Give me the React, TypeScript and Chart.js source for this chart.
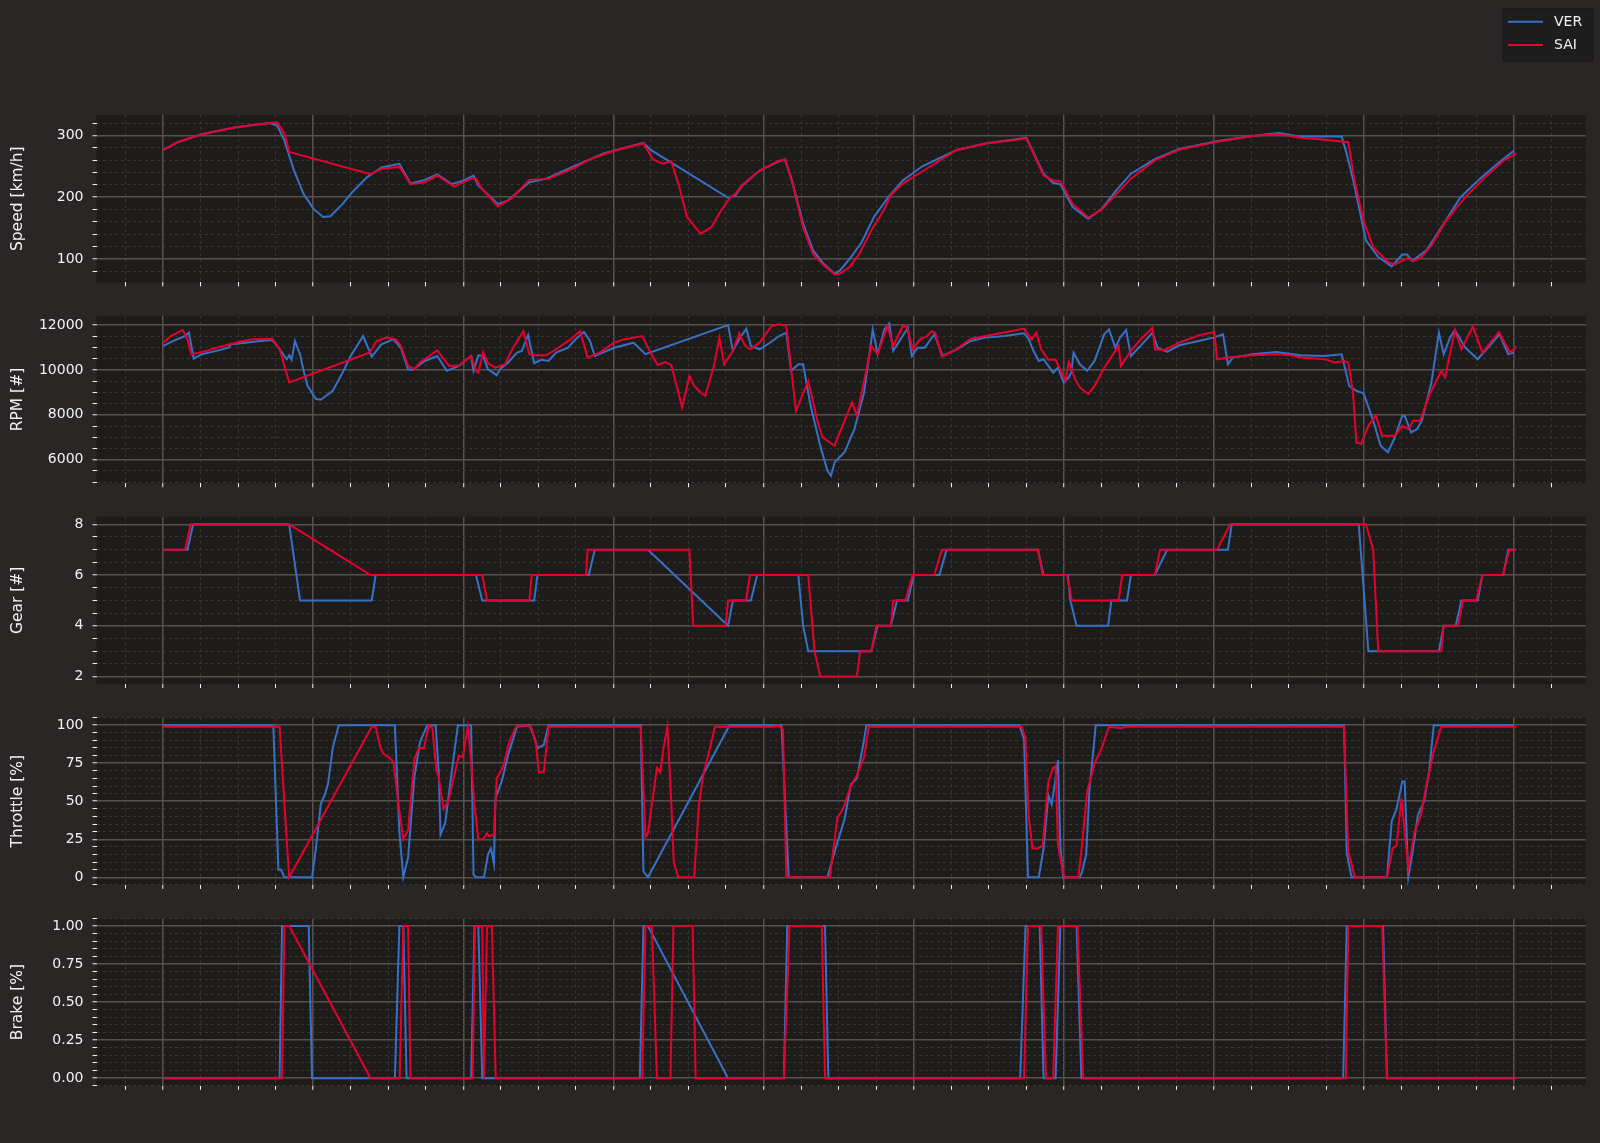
import { useEffect, useRef } from 'react';
import { Chart, registerables } from 'chart.js';

Chart.register(...registerables);

type Pt = [number, number];

// ---------- data ----------
const DRIVERS = ['VER', 'SAI'];
const DRIVER_COLORS = ['#3671C6', '#E8002D'];

const X_MIN = -222;
const X_MAX = 4740;
const X_MAJOR_STEP = 500;
const X_MINOR_STEP = 125;

const SPEED_TICKS = [100, 200, 300];
const RPM_TICKS = [6000, 8000, 10000, 12000];
const GEAR_TICKS = [2, 4, 6, 8];
const THROTTLE_TICKS = [0, 25, 50, 75, 100];
const BRAKE_TICKS = [0, 0.25, 0.5, 0.75, 1];

const VER_SPEED: Pt[] = [
  [0, 276], [48, 289], [129, 302], [242, 313], [355, 320], [380, 316], [404, 292], [436, 243], [468, 205],
  [501, 181], [533, 168], [557, 169], [598, 189], [630, 208], [679, 232], [727, 248], [787, 254], [824, 222],
  [872, 228], [913, 237], [961, 221], [1002, 227], [1034, 235], [1050, 219], [1115, 189], [1147, 194],
  [1220, 224], [1276, 230], [1373, 251], [1470, 271], [1600, 288], [1623, 277], [1882, 199], [1906, 203],
  [1930, 219], [1987, 243], [2052, 258], [2071, 261], [2092, 232], [2132, 157], [2165, 114], [2200, 92],
  [2237, 76], [2254, 81], [2287, 100], [2327, 127], [2368, 168], [2416, 200], [2464, 227], [2529, 250],
  [2642, 276], [2739, 287], [2876, 296], [2933, 238], [2965, 223], [2989, 221], [3030, 184], [3082, 165],
  [3127, 181], [3175, 211], [3224, 238], [3305, 262], [3385, 278], [3515, 291], [3644, 300], [3716, 304],
  [3789, 298], [3926, 298], [3943, 270], [3967, 222], [4007, 130], [4048, 103], [4093, 88], [4128, 107],
  [4144, 107], [4161, 97], [4209, 114], [4258, 151], [4322, 200], [4387, 230], [4452, 257], [4500, 275],
];
const SAI_SPEED: Pt[] = [
  [0, 276], [48, 289], [129, 302], [242, 313], [355, 320], [380, 321], [404, 303], [420, 273], [691, 237],
  [727, 246], [787, 249], [824, 221], [872, 224], [913, 235], [969, 217], [1026, 230], [1042, 230],
  [1058, 216], [1115, 185], [1163, 199], [1220, 228], [1284, 230], [1373, 248], [1414, 260], [1502, 275],
  [1600, 287], [1632, 261], [1664, 254], [1693, 258], [1720, 216], [1745, 168], [1790, 141], [1826, 151],
  [1858, 178], [1890, 200], [1906, 205], [1930, 220], [1987, 243], [2052, 259], [2073, 261], [2100, 216],
  [2132, 151], [2165, 108], [2200, 90], [2237, 75], [2254, 76], [2287, 87], [2319, 108], [2359, 146],
  [2400, 178], [2424, 203], [2464, 222], [2537, 244], [2642, 276], [2739, 287], [2876, 295], [2933, 235],
  [2965, 227], [2989, 226], [3030, 189], [3082, 167], [3127, 180], [3175, 205], [3224, 230], [3305, 260],
  [3385, 277], [3515, 290], [3644, 300], [3716, 302], [3789, 296], [3870, 293], [3948, 289], [3967, 232],
  [3999, 162], [4031, 119], [4080, 95], [4104, 91], [4144, 101], [4168, 97], [4193, 103], [4225, 122],
  [4274, 162], [4338, 200], [4403, 232], [4468, 260], [4508, 271],
];

const VER_RPM: Pt[] = [
  [0, 11070], [40, 11330], [73, 11510], [86, 11660], [102, 10500], [129, 10700], [178, 10850], [218, 10990],
  [226, 11140], [275, 11215], [323, 11290], [363, 11330], [380, 11070], [396, 10770], [412, 10475],
  [420, 10650], [428, 10450], [439, 11290], [456, 10700], [468, 9960], [481, 9290], [509, 8700], [525, 8670],
  [565, 9070], [598, 9880], [622, 10550], [666, 11510], [695, 10590], [727, 11140], [767, 11360],
  [792, 10990], [816, 10030], [832, 10000], [872, 10400], [913, 10620], [945, 9960], [985, 10180],
  [1026, 10620], [1034, 9960], [1050, 10650], [1066, 10620], [1082, 10030], [1099, 9880], [1111, 9760],
  [1123, 10060], [1147, 10300], [1179, 10770], [1195, 10850], [1216, 11560], [1236, 10300], [1260, 10450],
  [1284, 10400], [1309, 10770], [1349, 10990], [1373, 11360], [1402, 11690], [1422, 11290], [1438, 10620],
  [1502, 10990], [1567, 11215], [1607, 10700], [1882, 12000], [1898, 10850], [1922, 11440], [1943, 11840],
  [1958, 11070], [1987, 10920], [2019, 11190], [2052, 11510], [2076, 11660], [2092, 9960], [2116, 10250],
  [2132, 10250], [2157, 8400], [2189, 6620], [2213, 5510], [2225, 5290], [2237, 5880], [2270, 6330],
  [2291, 6990], [2303, 7360], [2335, 8990], [2364, 11810], [2380, 10700], [2403, 11810], [2419, 12070],
  [2432, 10850], [2481, 11880], [2494, 10620], [2513, 10990], [2537, 10990], [2569, 11590], [2597, 10620],
  [2642, 10900], [2691, 11290], [2739, 11440], [2804, 11510], [2868, 11630], [2884, 11360], [2897, 10920],
  [2917, 10400], [2933, 10475], [2965, 9880], [2981, 10100], [3000, 9440], [3017, 9660], [3025, 9880],
  [3033, 10770], [3054, 10250], [3078, 9960], [3103, 10400], [3135, 11590], [3151, 11810], [3172, 10990],
  [3188, 11440], [3208, 11780], [3224, 10620], [3256, 11070], [3296, 11660], [3313, 10990], [3345, 10800],
  [3385, 11100], [3450, 11290], [3498, 11440], [3531, 11590], [3547, 10250], [3563, 10550], [3628, 10700],
  [3708, 10800], [3789, 10650], [3870, 10620], [3926, 10700], [3951, 9290], [3975, 9070], [3999, 8960],
  [4031, 7740], [4056, 6620], [4080, 6330], [4101, 6920], [4128, 7960], [4136, 7960], [4157, 7220],
  [4177, 7360], [4193, 7740], [4225, 9440], [4250, 11660], [4266, 10700], [4287, 11440], [4303, 11780],
  [4338, 10990], [4379, 10475], [4452, 11590], [4481, 10700], [4500, 10770],
];
const SAI_RPM: Pt[] = [
  [0, 11215], [25, 11510], [65, 11780], [81, 11360], [94, 10700], [145, 10850], [178, 10990], [242, 11215],
  [291, 11360], [363, 11390], [388, 10920], [420, 9440], [687, 10770], [711, 11290], [743, 11440],
  [775, 11360], [792, 11070], [816, 10180], [837, 10030], [856, 10330], [913, 10870], [953, 10180],
  [985, 10200], [1026, 10620], [1042, 9960], [1050, 9880], [1066, 10800], [1082, 10300], [1107, 10100],
  [1139, 10250], [1163, 10920], [1200, 11730], [1220, 10700], [1236, 10650], [1276, 10650], [1309, 10920],
  [1357, 11360], [1389, 11730], [1414, 10550], [1454, 10770], [1502, 11215], [1535, 11360], [1596, 11510],
  [1624, 10770], [1648, 10210], [1672, 10350], [1693, 10210], [1729, 8330], [1753, 9730], [1769, 9290],
  [1793, 8960], [1806, 8850], [1834, 10140], [1853, 11440], [1869, 10250], [1898, 10850], [1919, 11630],
  [1939, 11070], [1955, 10920], [1987, 11215], [2027, 11960], [2052, 12030], [2076, 11960], [2108, 8180],
  [2149, 9510], [2181, 7660], [2197, 6990], [2237, 6620], [2254, 7220], [2295, 8550], [2311, 7960],
  [2335, 9500], [2359, 11070], [2380, 10700], [2413, 11960], [2432, 11070], [2464, 11960], [2477, 11930],
  [2497, 10920], [2521, 11360], [2545, 11510], [2561, 11730], [2572, 11660], [2594, 10590], [2642, 10920],
  [2691, 11390], [2771, 11590], [2868, 11840], [2893, 11360], [2909, 11660], [2925, 10920], [2949, 10450],
  [2973, 10450], [3006, 9510], [3017, 10360], [3038, 9590], [3054, 9220], [3082, 8920], [3103, 9290],
  [3135, 10100], [3183, 11070], [3191, 10180], [3224, 10850], [3256, 11360], [3296, 11880], [3304, 10920],
  [3337, 10890], [3385, 11215], [3450, 11540], [3502, 11690], [3511, 10475], [3547, 10550], [3628, 10650],
  [3708, 10700], [3757, 10650], [3789, 10550], [3870, 10475], [3902, 10330], [3934, 10400], [3948, 10330],
  [3964, 8990], [3975, 6770], [3991, 6700], [4015, 7510], [4040, 7960], [4061, 7070], [4104, 7070],
  [4128, 7510], [4148, 7360], [4164, 7740], [4188, 7740], [4217, 8850], [4258, 9960], [4271, 9660],
  [4303, 11780], [4325, 10920], [4363, 11930], [4395, 10770], [4450, 11690], [4487, 10770], [4508, 11040],
];

const VER_GEAR: Pt[] = [
  [0, 7], [81, 7], [100, 8], [420, 8], [444, 6], [456, 5], [695, 5], [708, 6], [1042, 6], [1063, 5],
  [1236, 5], [1247, 6], [1418, 6], [1438, 7], [1615, 7], [1882, 4], [1898, 5], [1958, 5], [1979, 6],
  [2116, 6], [2132, 4], [2149, 3], [2359, 3], [2380, 4], [2424, 4], [2445, 5], [2481, 5], [2500, 6],
  [2586, 6], [2610, 7], [2914, 7], [2933, 6], [3014, 6], [3022, 5], [3043, 4], [3148, 4], [3159, 5],
  [3211, 5], [3224, 6], [3304, 6], [3345, 7], [3547, 7], [3560, 8], [3983, 8], [4015, 3], [4250, 3],
  [4266, 4], [4306, 4], [4325, 5], [4379, 5], [4395, 6], [4464, 6], [4481, 7], [4500, 7],
];
const SAI_GEAR: Pt[] = [
  [0, 7], [73, 7], [92, 8], [420, 8], [691, 6], [1063, 6], [1079, 5], [1220, 5], [1228, 6], [1409, 6],
  [1414, 7], [1753, 7], [1766, 4], [1874, 4], [1882, 5], [1942, 5], [1955, 6], [2149, 6], [2170, 3],
  [2189, 2], [2311, 2], [2322, 3], [2359, 3], [2376, 4], [2424, 4], [2432, 5], [2473, 5], [2497, 6],
  [2569, 6], [2594, 7], [2914, 7], [2930, 6], [3011, 6], [3027, 5], [3183, 5], [3195, 6], [3304, 6],
  [3321, 7], [3511, 7], [3555, 8], [4007, 8], [4031, 7], [4048, 3], [4258, 3], [4266, 4], [4314, 4],
  [4330, 5], [4374, 5], [4395, 6], [4464, 6], [4484, 7], [4508, 7],
];

const VER_THROTTLE: Pt[] = [
  [0, 100], [367, 100], [384, 5], [393, 5], [404, 0], [496, 0], [509, 19], [525, 48], [538, 54], [549, 61],
  [565, 85], [585, 100], [772, 100], [787, 30], [800, 0], [816, 13], [837, 66], [856, 89], [880, 100],
  [908, 100], [918, 69], [924, 28], [940, 36], [961, 69], [982, 100], [1026, 100], [1034, 2], [1042, 0],
  [1069, 0], [1082, 15], [1092, 19], [1102, 9], [1107, 52], [1128, 63], [1150, 81], [1179, 99], [1220, 100],
  [1231, 95], [1247, 85], [1268, 87], [1284, 100], [1591, 100], [1600, 4], [1615, 0], [1887, 100],
  [2060, 100], [2084, 0], [2213, 0], [2246, 23], [2270, 38], [2291, 61], [2311, 65], [2332, 87], [2343, 100],
  [2852, 100], [2868, 91], [2881, 0], [2917, 0], [2933, 19], [2949, 54], [2960, 48], [2973, 65], [2981, 77],
  [2989, 21], [2998, 0], [3054, 0], [3062, 4], [3075, 15], [3086, 58], [3107, 100], [3934, 100], [3943, 16],
  [3959, 0], [4077, 0], [4093, 37], [4109, 45], [4128, 63], [4136, 63], [4148, 0], [4161, 15], [4180, 41],
  [4201, 50], [4217, 69], [4233, 100], [4500, 100],
];
const SAI_THROTTLE: Pt[] = [
  [0, 99], [388, 99], [404, 48], [420, 0], [695, 99], [708, 99], [724, 85], [735, 81], [751, 79], [767, 76],
  [784, 48], [800, 25], [816, 31], [837, 78], [853, 85], [869, 85], [885, 100], [897, 98], [910, 71],
  [918, 66], [934, 45], [950, 50], [985, 80], [998, 79], [1015, 99], [1026, 76], [1037, 48], [1050, 25],
  [1066, 25], [1079, 29], [1086, 27], [1102, 28], [1111, 65], [1131, 72], [1155, 90], [1176, 99],
  [1204, 100], [1225, 99], [1241, 89], [1252, 69], [1268, 69], [1284, 99], [1591, 99], [1607, 26],
  [1615, 29], [1645, 72], [1656, 69], [1667, 85], [1680, 99], [1693, 48], [1701, 10], [1716, 0], [1769, 0],
  [1785, 48], [1801, 69], [1817, 81], [1838, 99], [2036, 99], [2048, 100], [2065, 97], [2076, 0], [2221, 0],
  [2246, 39], [2265, 45], [2291, 60], [2311, 67], [2335, 79], [2351, 99], [2860, 99], [2872, 92],
  [2884, 39], [2896, 19], [2914, 19], [2930, 21], [2949, 63], [2965, 72], [2973, 73], [2981, 21], [3001, 0],
  [3049, 0], [3062, 23], [3078, 56], [3103, 75], [3127, 85], [3151, 99], [3191, 98], [3208, 99], [3934, 99],
  [3948, 17], [3970, 0], [4077, 0], [4096, 19], [4109, 21], [4125, 52], [4148, 6], [4169, 30], [4190, 41],
  [4209, 61], [4233, 83], [4258, 99], [4508, 99],
];

const VER_BRAKE: Pt[] = [
  [0, 0], [388, 0], [396, 1], [485, 1], [496, 0], [772, 0], [787, 1], [800, 1], [811, 0], [1026, 0],
  [1037, 1], [1050, 1], [1063, 0], [1588, 0], [1600, 1], [1615, 1], [1882, 0], [2068, 0], [2079, 1],
  [2205, 1], [2216, 0], [2855, 0], [2873, 1], [2920, 1], [2933, 0], [2973, 0], [2989, 1], [3043, 1],
  [3059, 0], [3931, 0], [3943, 1], [4064, 1], [4077, 0], [4500, 0],
];
const SAI_BRAKE: Pt[] = [
  [0, 0], [396, 0], [404, 1], [420, 1], [691, 0], [788, 0], [800, 1], [816, 1], [824, 0], [1031, 0],
  [1039, 1], [1063, 1], [1069, 0], [1079, 1], [1095, 1], [1108, 0], [1596, 0], [1607, 1], [1628, 1],
  [1645, 0], [1690, 0], [1700, 1], [1764, 1], [1774, 0], [2068, 0], [2087, 1], [2194, 1], [2205, 0],
  [2868, 0], [2881, 1], [2925, 1], [2941, 0], [2965, 0], [2981, 1], [3046, 1], [3065, 0], [3940, 0],
  [3948, 1], [4061, 1], [4077, 0], [4508, 0],
];

const PANELS = [
  { label: 'Speed [km/h]', ver: VER_SPEED, sai: SAI_SPEED, min: 62, max: 333, ticks: SPEED_TICKS, minor: 20, dec: 0 },
  { label: 'RPM [#]', ver: VER_RPM, sai: SAI_RPM, min: 4950, max: 12410, ticks: RPM_TICKS, minor: 500, dec: 0 },
  { label: 'Gear [#]', ver: VER_GEAR, sai: SAI_GEAR, min: 1.7, max: 8.3, ticks: GEAR_TICKS, minor: 0.5, dec: 0 },
  { label: 'Throttle [%]', ver: VER_THROTTLE, sai: SAI_THROTTLE, min: -5, max: 105, ticks: THROTTLE_TICKS, minor: 5, dec: 0 },
  { label: 'Brake [%]', ver: VER_BRAKE, sai: SAI_BRAKE, min: -0.05, max: 1.05, ticks: BRAKE_TICKS, minor: 0.05, dec: 2 },
];

// ---------- style / layout ----------
const FIG_W = 1600;
const FIG_H = 1143;
const FIG_BG = '#292625';
const AXES_BG = '#1e1c1b';
const TEXT = '#f1f2f3';
const MAJOR_GRID = '#57504d';
const MINOR_GRID = '#3a3533';
const FONT = '"DejaVu Sans", sans-serif';
const FONT_SIZE = 14;
const LABEL_SIZE = 15.5;

const AREA_LEFT = 96.5;
const AREA_RIGHT = 1586;
const AREA_TOP0 = 115;
const AREA_STEP = 200.85;
const AREA_H = 167.4;
const PAD_TOP = 24;
const X_AXIS_H = 24;

function stepValues(min: number, max: number, step: number): number[] {
  const out: number[] = [];
  const k0 = Math.ceil(min / step - 1e-9);
  const k1 = Math.floor(max / step + 1e-9);
  for (let k = k0; k <= k1; k++) out.push(Math.round(k * step * 1e6) / 1e6);
  return out;
}

const legendPlugin = {
  id: 'figLegend',
  afterDraw(chart: any) {
    const ctx = chart.ctx as CanvasRenderingContext2D;
    ctx.save();
    ctx.fillStyle = 'rgba(25,25,25,0.7)';
    ctx.fillRect(1503, 8.5, 90, 52.5);
    ctx.strokeStyle = 'rgba(25,25,25,0.9)';
    ctx.lineWidth = 1;
    ctx.strokeRect(1503, 8.5, 90, 52.5);
    const sets = chart.data.datasets;
    sets.forEach((ds: any, i: number) => {
      const y = 21.7 + i * 23.3;
      ctx.strokeStyle = ds.borderColor;
      ctx.lineWidth = 2;
      ctx.beginPath();
      ctx.moveTo(1508, y);
      ctx.lineTo(1543, y);
      ctx.stroke();
      ctx.fillStyle = TEXT;
      ctx.font = `${FONT_SIZE}px ${FONT}`;
      ctx.textBaseline = 'middle';
      ctx.textAlign = 'left';
      ctx.fillText(ds.label, 1554, y + 0.5);
    });
    ctx.restore();
  },
};

const bgPlugin = {
  id: 'plotBg',
  beforeDraw(chart: any) {
    const { ctx, chartArea: a } = chart;
    ctx.save();
    ctx.fillStyle = AXES_BG;
    ctx.fillRect(a.left, a.top, a.right - a.left, a.bottom - a.top);
    ctx.restore();
  },
};

function Panel({ idx }: { idx: number }) {
  const ref = useRef<HTMLCanvasElement>(null);
  const areaTop = AREA_TOP0 + idx * AREA_STEP;
  const canvasTop = idx === 0 ? 0 : Math.round(areaTop - PAD_TOP);
  const padTop = areaTop - canvasTop;
  const h = Math.ceil(padTop + AREA_H + X_AXIS_H);
  const padBottom = h - X_AXIS_H - (padTop + AREA_H);

  useEffect(() => {
    const p = PANELS[idx];
    const yVals = stepValues(p.min, p.max, p.minor);
    const xVals = stepValues(X_MIN, X_MAX, X_MINOR_STEP);
    const isMajorY = (v: number) => p.ticks.some((t) => Math.abs(t - v) < p.minor * 1e-3);
    const isMajorX = (v: number) => Math.abs(v / X_MAJOR_STEP - Math.round(v / X_MAJOR_STEP)) < 1e-6;
    const fmt = (v: number) => (p.dec > 0 ? v.toFixed(p.dec) : String(Math.round(v)));

    const chart = new Chart(ref.current as HTMLCanvasElement, {
      type: 'line',
      data: {
        datasets: [
          {
            label: DRIVERS[0],
            data: p.ver.map(([x, y]) => ({ x, y })),
            borderColor: DRIVER_COLORS[0],
            backgroundColor: DRIVER_COLORS[0],
            borderWidth: 2,
            pointRadius: 0,
            tension: 0,
            order: 1,
          },
          {
            label: DRIVERS[1],
            data: p.sai.map(([x, y]) => ({ x, y })),
            borderColor: DRIVER_COLORS[1],
            backgroundColor: DRIVER_COLORS[1],
            borderWidth: 2,
            pointRadius: 0,
            tension: 0,
            order: 0,
          },
        ],
      },
      options: {
        animation: false,
        responsive: false,
        devicePixelRatio: 1,
        events: [],
        layout: { padding: { top: padTop, bottom: padBottom, left: 0, right: FIG_W - AREA_RIGHT } },
        plugins: { legend: { display: false }, tooltip: { enabled: false } },
        scales: {
          x: {
            type: 'linear',
            min: X_MIN,
            max: X_MAX,
            bounds: 'data',
            afterBuildTicks: (s: any) => {
              s.ticks = xVals.map((v) => ({ value: v }));
            },
            afterFit: (s: any) => {
              s.height = X_AXIS_H;
            },
            ticks: { display: false, autoSkip: false },
            grid: {
              color: (c: any) => (isMajorX(c.tick?.value ?? 0) ? MAJOR_GRID : MINOR_GRID),
              lineWidth: (c: any) => (isMajorX(c.tick?.value ?? 0) ? 1.5 : 1),
              tickColor: TEXT,
              tickLength: 4,
              tickWidth: 1,
              drawTicks: true,
            },
            border: {
              display: false,
              dash: (c: any) => (isMajorX(c.tick?.value ?? 0) ? [] : [3, 3]),
            },
          },
          y: {
            type: 'linear',
            min: p.min,
            max: p.max,
            bounds: 'data',
            afterBuildTicks: (s: any) => {
              s.ticks = yVals.map((v) => ({ value: v }));
            },
            afterFit: (s: any) => {
              s.width = AREA_LEFT;
            },
            ticks: {
              autoSkip: false,
              color: TEXT,
              padding: 9,
              font: { family: FONT, size: FONT_SIZE },
              callback: (v: any) => (isMajorY(Number(v)) ? fmt(Number(v)) : ''),
            },
            title: {
              display: true,
              text: p.label,
              color: TEXT,
              font: { family: FONT, size: LABEL_SIZE },
              padding: { top: 9, bottom: 0 },
            },
            grid: {
              color: (c: any) => (isMajorY(c.tick?.value ?? 0) ? MAJOR_GRID : MINOR_GRID),
              lineWidth: (c: any) => (isMajorY(c.tick?.value ?? 0) ? 1.5 : 1),
              tickColor: TEXT,
              tickLength: 4,
              tickWidth: 1,
              drawTicks: true,
            },
            border: {
              display: false,
              dash: (c: any) => (isMajorY(c.tick?.value ?? 0) ? [] : [3, 3]),
            },
          },
        },
      } as any,
      plugins: idx === 0 ? [bgPlugin, legendPlugin] : [bgPlugin],
    });
    return () => chart.destroy();
  }, [idx]);

  return (
    <canvas
      ref={ref}
      width={FIG_W}
      height={h}
      style={{ position: 'absolute', left: 0, top: canvasTop, width: FIG_W, height: h, display: 'block' }}
    />
  );
}

export default function App() {
  return (
    <div
      style={{
        position: 'fixed',
        left: 0,
        top: 0,
        width: FIG_W,
        height: FIG_H,
        background: FIG_BG,
        overflow: 'hidden',
      }}
    >
      {PANELS.map((_, i) => (
        <Panel key={i} idx={i} />
      ))}
    </div>
  );
}
